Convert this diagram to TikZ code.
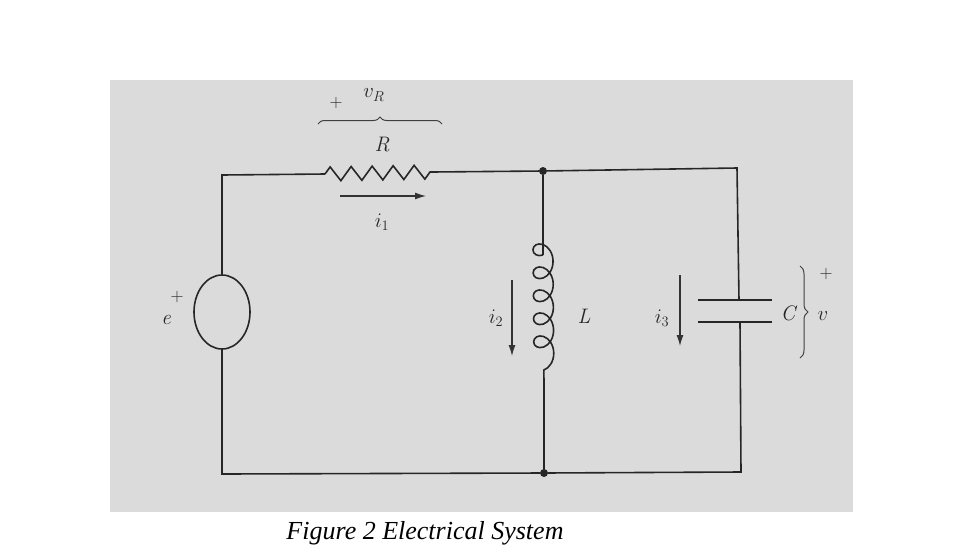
\documentclass[tikz,border=0pt]{standalone}
\usepackage{fontspec}
\newfontfamily\capfont{Liberation Serif}
\usetikzlibrary{decorations.pathmorphing,decorations.pathreplacing,arrows.meta,shapes.geometric}
\begin{document}
\begin{tikzpicture}[x=1pt,y=-1pt,
  wire/.style={line width=1.6pt,color=black!85},
  lbl/.style={font=\fontsize{21}{21}\selectfont\itshape,text=black!85},
  pl/.style={font=\fontsize{18}{18}\selectfont,text=black!85},
  cur/.style={line width=1.2pt,-{Latex[length=11pt,width=7pt]},color=black!80},
  dot/.style={circle,fill=black!85,inner sep=0pt,minimum size=8pt}]
\useasboundingbox (0,0) rectangle (954,558);
\fill[white] (0,0) rectangle (954,558);
\fill[gray!28] (110,80) rectangle (853,512);
% nodes
\node[draw,ellipse,line width=1.6pt,minimum width=56pt,minimum height=74pt,color=black!85] (src) at (222,312) {};
\coordinate (tl) at (src.north |- 0,175);
\coordinate (r1) at (325,174);
\coordinate (r2) at (432,172);
\node[dot] (jt) at (543,171) {};
\coordinate (tr) at (737,168);
\coordinate (c1) at (739,300);
\coordinate (c2) at (740,322);
\coordinate (br) at (741,472);
\node[dot] (jb) at (544,473) {};
\coordinate (bl) at (src.south |- 0,474);
\coordinate (l1) at (543,255);
\coordinate (l2) at (544,385);
% wires
\draw[wire] (src.north) -- (tl) -- (r1);
\draw[wire,decorate,decoration={zigzag,segment length=21pt,amplitude=7pt}] (r1) -- (r2);
\draw[wire] (r2) -- (jt) -- (tr) -- (c1);
\draw[wire] (c2) -- (br) -- (jb) -- (bl) -- (src.south);
\draw[wire] (jt) -- (l1);
\draw[wire,decorate,decoration={coil,aspect=1.1,segment length=23pt,amplitude=-10pt}] (l1) -- (l2);
\draw[wire] (l2) -- (jb);
\draw[wire] (698,300) -- (772,300);
\draw[wire] (698,322) -- (772,322);
% labels
\node[lbl] (e) at (166,320) {e};
\node[pl] (ep) at (177,297) {+};
\node[lbl] (R) at (382,145) {R};
\draw[line width=1pt,color=black!75,decorate,decoration={brace,amplitude=7pt}] (318,124) -- (442,124);
\node[lbl] (vR) at (374,95) {$v_R$};
\node[pl] (vp) at (336,103) {+};
\coordinate (a1) at (340,196); \coordinate (a2) at (426,196);
\draw[cur] (a1) -- (a2);
\node[lbl] (i1) at (382,222) {$i_1$};
\coordinate (b1) at (512,280); \coordinate (b2) at (512,356);
\draw[cur] (b1) -- (b2);
\node[lbl] (i2) at (496,318) {$i_2$};
\node[lbl] (L) at (584,316) {L};
\coordinate (d1) at (680,275); \coordinate (d2) at (680,346);
\draw[cur] (d1) -- (d2);
\node[lbl] (i3) at (662,318) {$i_3$};
\node[lbl] (C) at (788,313) {C};
\draw[line width=1pt,color=black!75,decorate,decoration={brace,amplitude=8pt}] (800,266) -- (800,358);
\node[pl] (cp) at (826,274) {+};
\node[lbl] (v) at (823,316) {$v$};
\node[font=\capfont\fontsize{26}{26}\selectfont\itshape] (cap) at (425,533) {Figure 2 Electrical System};
\end{tikzpicture}
\end{document}
